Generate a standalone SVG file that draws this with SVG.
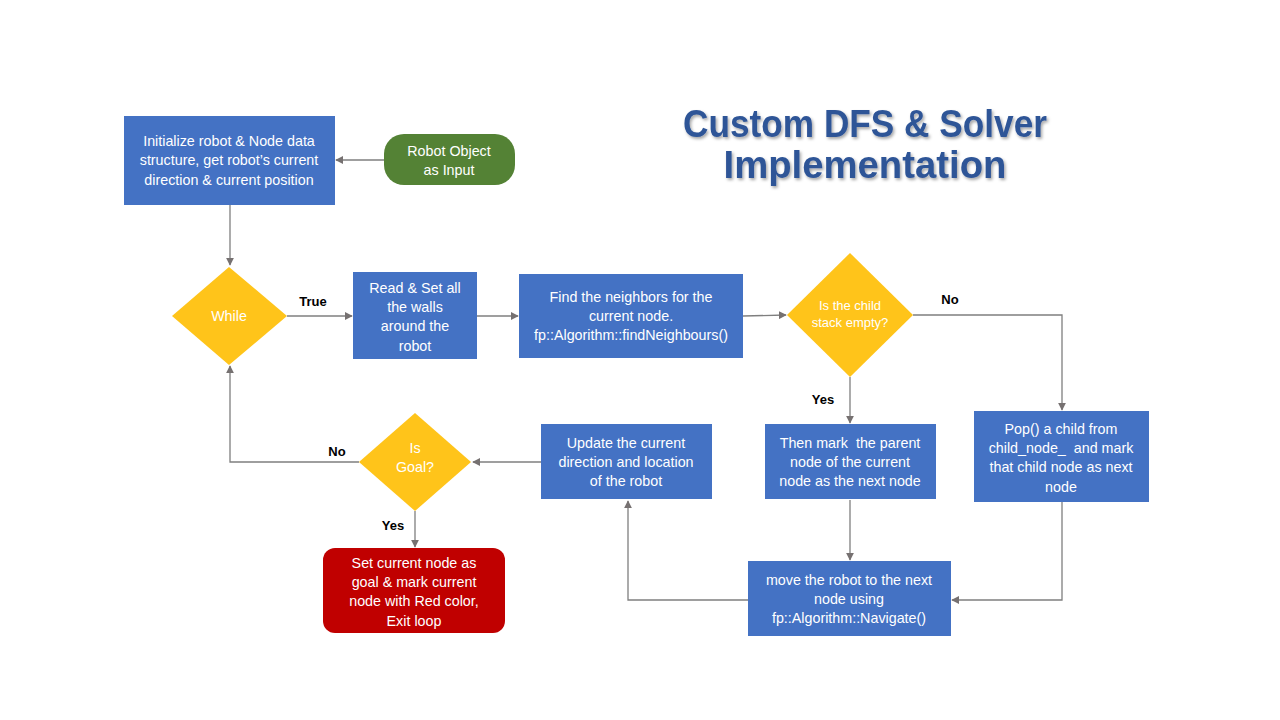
<svg xmlns="http://www.w3.org/2000/svg" width="1280" height="720" viewBox="0 0 1280 720">
<defs>
<marker id="ah" viewBox="0 0 10 10" refX="9" refY="5" markerWidth="8" markerHeight="8" markerUnits="userSpaceOnUse" orient="auto">
<path d="M0,0 L10,5 L0,10 z" fill="#767171"/>
</marker>
<filter id="sh" x="-5%" y="-20%" width="110%" height="140%">
<feDropShadow dx="1.5" dy="2" stdDeviation="1.5" flood-color="#000" flood-opacity="0.35"/>
</filter>
<style>
.box{fill:#4472C4}
.dia{fill:#FFC41A}
.t{font-family:"Liberation Sans",Arial,sans-serif;font-size:14.3px;fill:#fff;text-anchor:middle;white-space:pre}
.ts{font-size:13px}
.lbl{font-family:"Liberation Sans",Arial,sans-serif;font-size:13px;font-weight:bold;fill:#000;text-anchor:middle}
.c{fill:none;stroke:#7F7F7F;stroke-width:1.3;marker-end:url(#ah)}
.title{font-family:"Liberation Sans",Arial,sans-serif;font-weight:bold;font-size:38px;fill:#2F5597;text-anchor:middle}
</style>
</defs>
<rect width="1280" height="720" fill="#fff"/>

<g id="title" filter="url(#sh)">
<text class="title" x="865" y="137" textLength="364" lengthAdjust="spacingAndGlyphs">Custom DFS &amp; Solver</text>
<text class="title" x="865" y="178" textLength="283" lengthAdjust="spacingAndGlyphs">Implementation</text>
</g>

<g id="connectors">
<path class="c" d="M384,160 L336,160"/>
<path class="c" d="M230,205 L230,265"/>
<path class="c" d="M287,316 L352,316"/>
<path class="c" d="M477,316 L518,316"/>
<path class="c" d="M743,316 L786,315"/>
<path class="c" d="M913,315 L1062,315 L1062,410"/>
<path class="c" d="M850,377 L850,423"/>
<path class="c" d="M850,500 L850,560"/>
<path class="c" d="M1062,502 L1062,600 L952,600"/>
<path class="c" d="M748,600 L628,600 L628,501"/>
<path class="c" d="M541,462 L473,462"/>
<path class="c" d="M359,462 L230,462 L230,366"/>
<path class="c" d="M415,511 L415,547"/>
</g>

<g id="labels">
<text class="lbl" x="313" y="306">True</text>
<text class="lbl" x="950" y="304">No</text>
<text class="lbl" x="823" y="404">Yes</text>
<text class="lbl" x="337" y="456">No</text>
<text class="lbl" x="393" y="530">Yes</text>
</g>

<g id="init">
<rect class="box" x="124" y="116" width="211" height="89"/>
<text class="t" x="229" y="146">Initialize robot &amp; Node data</text>
<text class="t" x="229" y="165">structure, get robot’s current</text>
<text class="t" x="229" y="185">direction &amp; current position</text>
</g>

<g id="robot-input">
<rect x="384" y="134" width="131" height="51" rx="20" fill="#548235"/>
<text class="t" x="449" y="156">Robot Object</text>
<text class="t" x="449" y="175">as Input</text>
</g>

<g id="while">
<polygon class="dia" points="229,267 287,316 229,365 172,316"/>
<text class="t" x="229" y="321">While</text>
</g>

<g id="read">
<rect class="box" x="353" y="272" width="124" height="87"/>
<text class="t" x="415" y="293">Read &amp; Set all</text>
<text class="t" x="415" y="312">the walls</text>
<text class="t" x="415" y="331">around the</text>
<text class="t" x="415" y="351">robot</text>
</g>

<g id="find">
<rect class="box" x="519" y="274" width="224" height="84"/>
<text class="t" x="631" y="302">Find the neighbors for the</text>
<text class="t" x="631" y="321">current node.</text>
<text class="t" x="631" y="340">fp::Algorithm::findNeighbours()</text>
</g>

<g id="stack-empty">
<polygon class="dia" points="850,253 913,315 850,377 787,315"/>
<text class="t ts" x="850" y="310">Is the child</text>
<text class="t ts" x="850" y="327">stack empty?</text>
</g>

<g id="parent">
<rect class="box" x="765" y="424" width="171" height="75"/>
<text class="t" x="850" y="448" xml:space="preserve">Then mark  the parent</text>
<text class="t" x="850" y="467">node of the current</text>
<text class="t" x="850" y="486">node as the next node</text>
</g>

<g id="pop">
<rect class="box" x="974" y="411" width="175" height="91"/>
<text class="t" x="1061" y="434">Pop() a child from</text>
<text class="t" x="1061" y="453" xml:space="preserve">child_node_  and mark</text>
<text class="t" x="1061" y="472">that child node as next</text>
<text class="t" x="1061" y="492">node</text>
</g>

<g id="move">
<rect class="box" x="748" y="561" width="203" height="75"/>
<text class="t" x="849" y="585">move the robot to the next</text>
<text class="t" x="849" y="604">node using</text>
<text class="t" x="849" y="623">fp::Algorithm::Navigate()</text>
</g>

<g id="update">
<rect class="box" x="541" y="424" width="171" height="75"/>
<text class="t" x="626" y="448">Update the current</text>
<text class="t" x="626" y="467">direction and location</text>
<text class="t" x="626" y="486">of the robot</text>
</g>

<g id="is-goal">
<polygon class="dia" points="415,413 471,462 415,511 359,462"/>
<text class="t" x="415" y="453">Is</text>
<text class="t" x="415" y="472">Goal?</text>
</g>

<g id="exit">
<rect x="323" y="548" width="182" height="85" rx="12" fill="#C00000"/>
<text class="t" x="414" y="568">Set current node as</text>
<text class="t" x="414" y="587">goal &amp; mark current</text>
<text class="t" x="414" y="606">node with Red color,</text>
<text class="t" x="414" y="626">Exit loop</text>
</g>
</svg>
